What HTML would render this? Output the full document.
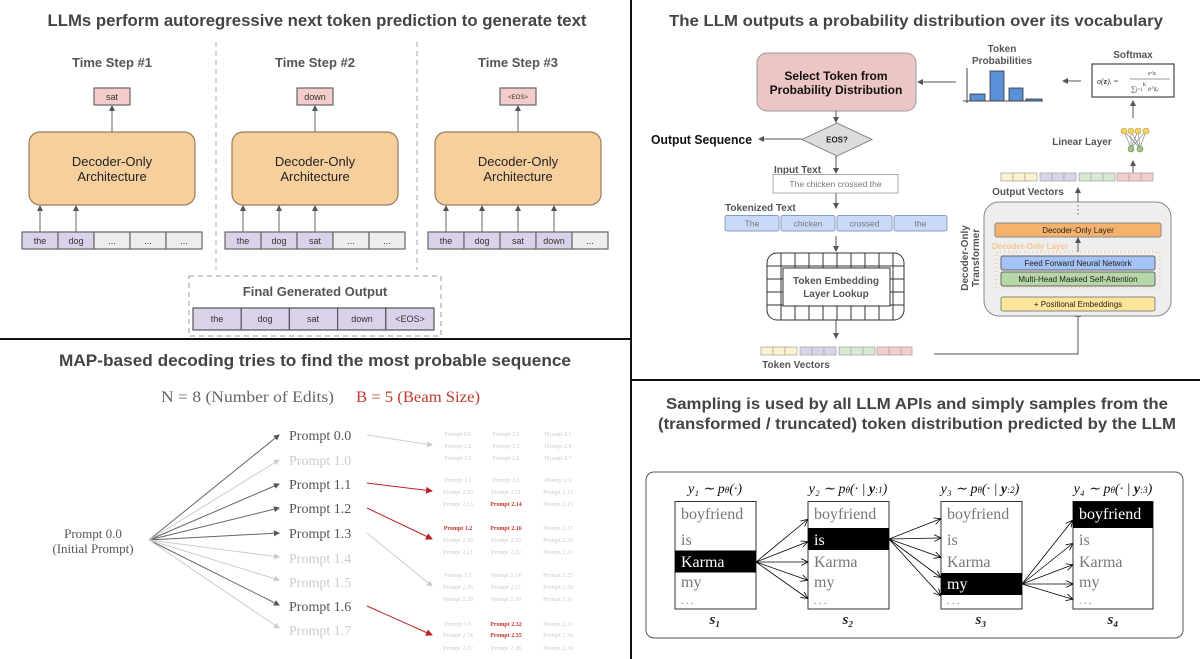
<!DOCTYPE html>
<html><head><meta charset="utf-8"><style>
html,body{margin:0;padding:0;background:#fff;}
svg{display:block;}
.t{font-family:"Liberation Sans",sans-serif;}
.s{font-family:"Liberation Serif",serif;}
</style></head><body>
<svg width="1200" height="659" viewBox="0 0 1200 659" xmlns="http://www.w3.org/2000/svg">
<defs>
<marker id="a" markerWidth="6" markerHeight="6" refX="5" refY="3" orient="auto" markerUnits="userSpaceOnUse"><path d="M0,0 L6,3 L0,6 z" fill="#555"/></marker>
<marker id="al" markerWidth="6" markerHeight="6" refX="5" refY="3" orient="auto" markerUnits="userSpaceOnUse"><path d="M0,0 L6,3 L0,6 z" fill="#ccc"/></marker>
<marker id="ar" markerWidth="7" markerHeight="7" refX="6" refY="3.5" orient="auto" markerUnits="userSpaceOnUse"><path d="M0,0 L7,3.5 L0,7 z" fill="#b22"/></marker>
<marker id="ab" markerWidth="7" markerHeight="7" refX="6" refY="3.5" orient="auto" markerUnits="userSpaceOnUse"><path d="M0,0 L7,3.5 L0,7" fill="none" stroke="#000" stroke-width="0.8"/></marker>
</defs>

<line x1="631" y1="0" x2="631" y2="659" stroke="#111" stroke-width="2"/>
<line x1="0" y1="339" x2="631" y2="339" stroke="#111" stroke-width="2"/>
<line x1="631" y1="380" x2="1200" y2="380" stroke="#111" stroke-width="2"/>

<text class="t" x="317" y="26" text-anchor="middle" font-size="17" font-weight="bold" fill="#444" textLength="539" lengthAdjust="spacingAndGlyphs">LLMs perform autoregressive next token prediction to generate text</text>
<g class="t" font-size="13" font-weight="bold" fill="#555" text-anchor="middle">
<text x="112" y="67">Time Step #1</text><text x="315" y="67">Time Step #2</text><text x="518" y="67">Time Step #3</text></g>
<line x1="216" y1="42" x2="216" y2="270" stroke="#aaa" stroke-dasharray="5,4"/>
<line x1="417" y1="42" x2="417" y2="270" stroke="#aaa" stroke-dasharray="5,4"/>
<g stroke="#666" stroke-width="1.2">
<rect x="94" y="88" width="36" height="17" fill="#f4cccc"/>
<rect x="297" y="88" width="36" height="17" fill="#f4cccc"/>
<rect x="500" y="88" width="36" height="17" fill="#f4cccc"/>
<rect x="29" y="132" width="166" height="73" rx="11" fill="#f6cf9c" stroke="#9a7b5a"/>
<rect x="232" y="132" width="166" height="73" rx="11" fill="#f6cf9c" stroke="#9a7b5a"/>
<rect x="435" y="132" width="166" height="73" rx="11" fill="#f6cf9c" stroke="#9a7b5a"/>
</g>
<g class="t" font-size="9" fill="#333" text-anchor="middle">
<text x="112" y="100">sat</text><text x="315" y="100">down</text><text x="518" y="99" font-size="6">&lt;EOS&gt;</text></g>
<g class="t" font-size="13" fill="#222" text-anchor="middle">
<text x="112" y="166">Decoder-Only</text><text x="112" y="181">Architecture</text>
<text x="315" y="166">Decoder-Only</text><text x="315" y="181">Architecture</text>
<text x="518" y="166">Decoder-Only</text><text x="518" y="181">Architecture</text></g>
<g stroke="#666" stroke-width="1" marker-end="url(#a)">
<line x1="112" y1="132" x2="112" y2="106"/><line x1="315" y1="132" x2="315" y2="106"/><line x1="518" y1="132" x2="518" y2="106"/>
<line x1="40" y1="232" x2="40" y2="206"/><line x1="76" y1="232" x2="76" y2="206"/>
<line x1="243" y1="232" x2="243" y2="206"/><line x1="279" y1="232" x2="279" y2="206"/><line x1="315" y1="232" x2="315" y2="206"/>
<line x1="446" y1="232" x2="446" y2="206"/><line x1="482" y1="232" x2="482" y2="206"/><line x1="518" y1="232" x2="518" y2="206"/><line x1="554" y1="232" x2="554" y2="206"/>
</g>
<g stroke="#666" stroke-width="1.2">
<rect x="22" y="232" width="36" height="17" fill="#d9d2e9"/><rect x="58" y="232" width="36" height="17" fill="#d9d2e9"/><rect x="94" y="232" width="36" height="17" fill="#eee"/><rect x="130" y="232" width="36" height="17" fill="#eee"/><rect x="166" y="232" width="36" height="17" fill="#eee"/>
<rect x="225" y="232" width="36" height="17" fill="#d9d2e9"/><rect x="261" y="232" width="36" height="17" fill="#d9d2e9"/><rect x="297" y="232" width="36" height="17" fill="#d9d2e9"/><rect x="333" y="232" width="36" height="17" fill="#eee"/><rect x="369" y="232" width="36" height="17" fill="#eee"/>
<rect x="428" y="232" width="36" height="17" fill="#d9d2e9"/><rect x="464" y="232" width="36" height="17" fill="#d9d2e9"/><rect x="500" y="232" width="36" height="17" fill="#d9d2e9"/><rect x="536" y="232" width="36" height="17" fill="#d9d2e9"/><rect x="572" y="232" width="36" height="17" fill="#eee"/>
</g>
<g class="t" font-size="9" fill="#333" text-anchor="middle">
<text x="40" y="244">the</text><text x="76" y="244">dog</text><text x="112" y="244">...</text><text x="148" y="244">...</text><text x="184" y="244">...</text>
<text x="243" y="244">the</text><text x="279" y="244">dog</text><text x="315" y="244">sat</text><text x="351" y="244">...</text><text x="387" y="244">...</text>
<text x="446" y="244">the</text><text x="482" y="244">dog</text><text x="518" y="244">sat</text><text x="554" y="244">down</text><text x="590" y="244">...</text></g>
<rect x="189" y="276" width="252" height="60" fill="none" stroke="#999" stroke-dasharray="5,4"/>
<text class="t" x="315" y="296" text-anchor="middle" font-size="13" font-weight="bold" fill="#555">Final Generated Output</text>
<g stroke="#555" stroke-width="1.2" fill="#d9d2e9">
<rect x="193" y="308" width="48.2" height="22"/><rect x="241.2" y="308" width="48.2" height="22"/><rect x="289.4" y="308" width="48.2" height="22"/><rect x="337.6" y="308" width="48.2" height="22"/><rect x="385.8" y="308" width="48.2" height="22"/></g>
<g class="t" font-size="9" fill="#333" text-anchor="middle">
<text x="217" y="322">the</text><text x="265" y="322">dog</text><text x="313" y="322">sat</text><text x="362" y="322">down</text><text x="410" y="322">&lt;EOS&gt;</text></g>

<text class="t" x="315" y="366" text-anchor="middle" font-size="17" font-weight="bold" fill="#444" textLength="512" lengthAdjust="spacingAndGlyphs">MAP-based decoding tries to find the most probable sequence</text>
<text class="s" x="161" y="402" font-size="16" fill="#666" textLength="173" lengthAdjust="spacingAndGlyphs">N = 8 (Number of Edits)</text>
<text class="s" x="356" y="402" font-size="16" fill="#c0392b" textLength="124" lengthAdjust="spacingAndGlyphs">B = 5 (Beam Size)</text>
<g class="s" font-size="13" fill="#555" text-anchor="middle"><text x="93" y="538">Prompt 0.0</text><text x="93" y="553">(Initial Prompt)</text></g>
<g stroke="#666" stroke-width="1" marker-end="url(#a)">
<line x1="149" y1="540" x2="279" y2="435"/><line x1="149" y1="540" x2="279" y2="484"/><line x1="149" y1="540" x2="279" y2="508"/><line x1="149" y1="540" x2="279" y2="533"/><line x1="149" y1="540" x2="279" y2="605"/></g>
<g stroke="#ccc" stroke-width="1" marker-end="url(#al)">
<line x1="149" y1="540" x2="279" y2="460"/><line x1="149" y1="540" x2="279" y2="557"/><line x1="149" y1="540" x2="279" y2="580"/><line x1="149" y1="540" x2="279" y2="628"/>
<line x1="367" y1="435" x2="432" y2="445"/><line x1="367" y1="533" x2="432" y2="586"/></g>
<g stroke="#b22" stroke-width="1" marker-end="url(#ar)">
<line x1="367" y1="483" x2="432" y2="491"/><line x1="367" y1="508" x2="432" y2="539"/><line x1="367" y1="606" x2="432" y2="635"/></g>
<g class="s" font-size="14">
<text x="289" y="440" fill="#555">Prompt 0.0</text><text x="289" y="465" fill="#ccc">Prompt 1.0</text><text x="289" y="489" fill="#555">Prompt 1.1</text><text x="289" y="513" fill="#555">Prompt 1.2</text><text x="289" y="538" fill="#555">Prompt 1.3</text><text x="289" y="563" fill="#ccc">Prompt 1.4</text><text x="289" y="587" fill="#ccc">Prompt 1.5</text><text x="289" y="611" fill="#555">Prompt 1.6</text><text x="289" y="635" fill="#ccc">Prompt 1.7</text></g>
<g class="s" font-size="6" fill="#ccc" text-anchor="middle">
<text x="458" y="436">Prompt 0.0</text><text x="506" y="436">Prompt 2.0</text><text x="558" y="436">Prompt 2.1</text>
<text x="458" y="448">Prompt 2.2</text><text x="506" y="448">Prompt 2.3</text><text x="558" y="448">Prompt 2.4</text>
<text x="458" y="460">Prompt 2.5</text><text x="506" y="460">Prompt 2.6</text><text x="558" y="460">Prompt 2.7</text>
<text x="458" y="482">Prompt 1.1</text><text x="506" y="482">Prompt 2.8</text><text x="558" y="482">Prompt 2.9</text>
<text x="458" y="494">Prompt 2.10</text><text x="506" y="494">Prompt 2.11</text><text x="558" y="494">Prompt 2.12</text>
<text x="458" y="506">Prompt 2.13</text><text x="506" y="506" fill="#c0392b" font-weight="bold">Prompt 2.14</text><text x="558" y="506">Prompt 2.15</text>
<text x="458" y="530" fill="#c0392b" font-weight="bold">Prompt 1.2</text><text x="506" y="530" fill="#c0392b" font-weight="bold">Prompt 2.16</text><text x="558" y="530">Prompt 2.17</text>
<text x="458" y="542">Prompt 2.18</text><text x="506" y="542">Prompt 2.19</text><text x="558" y="542">Prompt 2.20</text>
<text x="458" y="554">Prompt 2.21</text><text x="506" y="554">Prompt 2.22</text><text x="558" y="554">Prompt 2.23</text>
<text x="458" y="577">Prompt 1.3</text><text x="506" y="577">Prompt 2.24</text><text x="558" y="577">Prompt 2.25</text>
<text x="458" y="589">Prompt 2.26</text><text x="506" y="589">Prompt 2.27</text><text x="558" y="589">Prompt 2.28</text>
<text x="458" y="601">Prompt 2.29</text><text x="506" y="601">Prompt 2.30</text><text x="558" y="601">Prompt 2.31</text>
<text x="458" y="626">Prompt 1.6</text><text x="506" y="626" fill="#c0392b" font-weight="bold">Prompt 2.32</text><text x="558" y="626">Prompt 2.33</text>
<text x="458" y="637">Prompt 2.34</text><text x="506" y="637" fill="#c0392b" font-weight="bold">Prompt 2.35</text><text x="558" y="637">Prompt 2.36</text>
<text x="458" y="650">Prompt 2.37</text><text x="506" y="650">Prompt 2.38</text><text x="558" y="650">Prompt 2.39</text></g>

<text class="t" x="916" y="26" text-anchor="middle" font-size="16" font-weight="bold" fill="#444" textLength="494" lengthAdjust="spacingAndGlyphs">The LLM outputs a probability distribution over its vocabulary</text>
<rect x="757" y="53" width="159" height="58" rx="10" fill="#ecc5c5" stroke="#999"/>
<g class="t" font-size="12" font-weight="bold" fill="#111" text-anchor="middle"><text x="836" y="80">Select Token from</text><text x="836" y="94">Probability Distribution</text></g>
<g stroke="#555" stroke-width="1" marker-end="url(#a)">
<line x1="956" y1="82" x2="918" y2="82"/><line x1="1081" y1="81" x2="1063" y2="81"/>
<line x1="1133" y1="118" x2="1133" y2="101"/><line x1="1133" y1="173" x2="1133" y2="161"/>
<line x1="836" y1="111" x2="836" y2="122"/><line x1="802" y1="139" x2="759" y2="139"/>
<line x1="836" y1="156" x2="836" y2="173"/><line x1="836" y1="193" x2="836" y2="208"/>
<line x1="836" y1="236" x2="836" y2="251"/><line x1="836" y1="320" x2="836" y2="338"/>
<line x1="1078" y1="202" x2="1078" y2="188"/>
<polyline points="934,354 1078,354 1078,312" fill="none"/>
</g>
<g class="t" font-size="10" font-weight="bold" fill="#555" text-anchor="middle"><text x="1002" y="52">Token</text><text x="1002" y="64">Probabilities</text><text x="1133" y="58">Softmax</text></g>
<g stroke="#333" stroke-width="0.8" fill="#5b8fd6">
<rect x="970" y="94" width="15" height="7"/><rect x="990" y="71" width="14" height="30"/><rect x="1009" y="88" width="14" height="13"/><rect x="1026" y="99" width="16" height="2"/></g>
<path d="M967,68 V103 M963,101 H1043" stroke="#444" fill="none"/>
<rect x="1092" y="64" width="82" height="33" fill="#fff" stroke="#444" stroke-width="1.2"/>
<g class="s" font-size="8" fill="#333"><text x="1097" y="84" font-style="italic">σ(<tspan font-weight="bold" font-style="normal">z</tspan>)ᵢ =</text>
<text x="1148" y="75" font-size="6" font-style="italic">e^zᵢ</text><line x1="1130" y1="79" x2="1170" y2="79" stroke="#333" stroke-width="0.6"/><text x="1131" y="91" font-size="7">∑<tspan font-size="5">j=1</tspan><tspan font-size="5" dy="-5">K</tspan><tspan dy="5" font-style="italic"> e^zⱼ</tspan></text></g>
<text class="t" x="1082" y="145" text-anchor="middle" font-size="10" font-weight="bold" fill="#555">Linear Layer</text>
<g stroke="#777" stroke-width="0.6">
<path d="M1124,131 L1131,148 M1124,131 L1140,148 M1131,131 L1131,148 M1131,131 L1140,148 M1138,131 L1131,148 M1138,131 L1140,148 M1146,131 L1131,148 M1146,131 L1140,148"/>
<g fill="#f5d36a" stroke="#b9a040"><circle cx="1124" cy="131" r="3"/><circle cx="1131" cy="131" r="3"/><circle cx="1138" cy="131" r="3"/><circle cx="1146" cy="131" r="3"/></g>
<g fill="#9fc58c" stroke="#6a8f5a"><circle cx="1131" cy="149" r="3"/><circle cx="1140" cy="149" r="3"/></g></g>
<g stroke="#aaa" stroke-width="0.8">
<rect x="1001" y="173" width="12" height="8" fill="#fff2cc"/><rect x="1013" y="173" width="12" height="8" fill="#fff2cc"/><rect x="1025" y="173" width="12" height="8" fill="#fff2cc"/>
<rect x="1040" y="173" width="12" height="8" fill="#d9d2e9"/><rect x="1052" y="173" width="12" height="8" fill="#d9d2e9"/><rect x="1064" y="173" width="12" height="8" fill="#d9d2e9"/>
<rect x="1079" y="173" width="12" height="8" fill="#d9ead3"/><rect x="1091" y="173" width="12" height="8" fill="#d9ead3"/><rect x="1103" y="173" width="12" height="8" fill="#d9ead3"/>
<rect x="1117" y="173" width="12" height="8" fill="#f4cccc"/><rect x="1129" y="173" width="12" height="8" fill="#f4cccc"/><rect x="1141" y="173" width="12" height="8" fill="#f4cccc"/></g>
<text class="t" x="1028" y="195" text-anchor="middle" font-size="10" font-weight="bold" fill="#555">Output Vectors</text>
<rect x="984" y="202" width="187" height="114" rx="15" fill="#eee" stroke="#888"/>
<line x1="1078" y1="205" x2="1078" y2="217" stroke="#666" stroke-dasharray="1.5,2.5"/>
<rect x="995" y="223" width="166" height="14" rx="2" fill="#f6b26b" stroke="#888"/>
<text class="t" x="1078" y="233" text-anchor="middle" font-size="8" fill="#222">Decoder-Only Layer</text>
<line x1="1078" y1="252" x2="1078" y2="238" stroke="#555" marker-end="url(#a)"/>
<text class="t" x="1030" y="249" text-anchor="middle" font-size="8" font-weight="bold" fill="#f6c590">Decoder-Only Layer</text>
<rect x="996" y="252" width="164" height="36" fill="none" stroke="#f6b26b" stroke-dasharray="1,3"/>
<rect x="1001" y="256" width="154" height="14" rx="2" fill="#a4c2f4" stroke="#666"/>
<rect x="1001" y="272" width="154" height="14" rx="2" fill="#b6d7a8" stroke="#666"/>
<rect x="1001" y="297" width="154" height="14" rx="2" fill="#ffe599" stroke="#888"/>
<g class="t" font-size="8" fill="#222" text-anchor="middle"><text x="1078" y="266">Feed Forward Neural Network</text><text x="1078" y="282">Multi-Head Masked Self-Attention</text><text x="1078" y="307">+ Positional Embeddings</text></g>
<g class="t" font-size="10" font-weight="bold" fill="#555" text-anchor="middle">
<text transform="translate(968,258) rotate(-90)">Decoder-Only</text><text transform="translate(979,258) rotate(-90)">Transformer</text></g>
<polygon points="837,123 872,139.5 837,156 802,139.5" fill="#ddd" stroke="#888"/>
<text class="t" x="837" y="142.5" text-anchor="middle" font-size="8" font-weight="bold" fill="#222">EOS?</text>
<text class="t" x="651" y="144" font-size="13" font-weight="bold" fill="#111" textLength="101" lengthAdjust="spacingAndGlyphs">Output Sequence</text>
<text class="t" x="774" y="173" font-size="10" font-weight="bold" fill="#555">Input Text</text>
<rect x="773" y="174.5" width="125" height="18.5" fill="#fff" stroke="#aaa"/>
<text class="t" x="835.5" y="187" text-anchor="middle" font-size="8.5" fill="#777">The chicken crossed the</text>
<text class="t" x="725" y="211" font-size="10" font-weight="bold" fill="#555">Tokenized Text</text>
<g stroke="#8a9cc0" fill="#c9daf8"><rect x="725" y="215.5" width="54" height="15.5" rx="2"/><rect x="781" y="215.5" width="54" height="15.5" rx="2"/><rect x="837" y="215.5" width="55" height="15.5" rx="2"/><rect x="894" y="215.5" width="53" height="15.5" rx="2"/></g>
<g class="t" font-size="8.5" fill="#777" text-anchor="middle"><text x="752" y="226.5">The</text><text x="808" y="226.5">chicken</text><text x="864.5" y="226.5">crossed</text><text x="920.5" y="226.5">the</text></g>
<rect x="767" y="253" width="137" height="67" rx="10" fill="#fff" stroke="#333"/>
<g stroke="#333" stroke-width="1">
<path d="M781,253V320 M795,253V320 M809,253V320 M823,253V320 M837,253V320 M851,253V320 M865,253V320 M879,253V320 M893,253V320"/>
<path d="M767,266H904 M767,279H904 M767,292H904 M767,305H904"/></g>
<rect x="783" y="268" width="107" height="38" fill="#fff" stroke="#333"/>
<g class="t" font-size="10" font-weight="bold" fill="#555" text-anchor="middle"><text x="836" y="284">Token Embedding</text><text x="836" y="297">Layer Lookup</text></g>
<g stroke="#aaa" stroke-width="0.8">
<rect x="761" y="347" width="12" height="8" fill="#fff2cc"/><rect x="773" y="347" width="12" height="8" fill="#fff2cc"/><rect x="785" y="347" width="12" height="8" fill="#fff2cc"/>
<rect x="800" y="347" width="12" height="8" fill="#d9d2e9"/><rect x="812" y="347" width="12" height="8" fill="#d9d2e9"/><rect x="824" y="347" width="12" height="8" fill="#d9d2e9"/>
<rect x="839" y="347" width="12" height="8" fill="#d9ead3"/><rect x="851" y="347" width="12" height="8" fill="#d9ead3"/><rect x="863" y="347" width="12" height="8" fill="#d9ead3"/>
<rect x="877" y="347" width="12" height="8" fill="#f4cccc"/><rect x="889" y="347" width="12" height="8" fill="#f4cccc"/><rect x="901" y="347" width="11" height="8" fill="#f4cccc"/></g>
<text class="t" x="796" y="368" text-anchor="middle" font-size="10" font-weight="bold" fill="#555">Token Vectors</text>

<g class="t" font-size="16" font-weight="bold" fill="#444" text-anchor="middle">
<text x="917" y="409" textLength="502" lengthAdjust="spacingAndGlyphs">Sampling is used by all LLM APIs and simply samples from the</text>
<text x="917" y="429" textLength="518" lengthAdjust="spacingAndGlyphs">(transformed / truncated) token distribution predicted by the LLM</text></g>
<rect x="646" y="472" width="537" height="166" rx="8" fill="#fff" stroke="#555"/>
<g class="s" font-size="14" font-style="italic" fill="#111" text-anchor="middle">
<text x="715" y="493">y₁ ∼ p<tspan font-size="9">θ</tspan>(·)</text>
<text x="848" y="493">y₂ ∼ p<tspan font-size="9">θ</tspan>(· | <tspan font-weight="bold">y</tspan><tspan font-size="9">:1</tspan>)</text>
<text x="980" y="493">y₃ ∼ p<tspan font-size="9">θ</tspan>(· | <tspan font-weight="bold">y</tspan><tspan font-size="9">:2</tspan>)</text>
<text x="1113" y="493">y₄ ∼ p<tspan font-size="9">θ</tspan>(· | <tspan font-weight="bold">y</tspan><tspan font-size="9">:3</tspan>)</text></g>
<g fill="#fff" stroke="#333"><rect x="675" y="501.5" width="81" height="107.5"/><rect x="808" y="501.5" width="81" height="107.5"/><rect x="941" y="501.5" width="81" height="107.5"/><rect x="1073" y="501.5" width="80" height="107.5"/></g>
<g fill="#000"><rect x="675" y="550.5" width="81" height="22"/><rect x="808" y="528" width="81" height="22"/><rect x="941" y="573" width="81" height="22"/><rect x="1073" y="501.5" width="80" height="26.5"/></g>
<g class="s" font-size="16" fill="#777">
<text x="681" y="519">boyfriend</text><text x="681" y="545">is</text><text x="681" y="567" fill="#fff">Karma</text><text x="681" y="587">my</text><text x="681" y="604" font-size="10">. . .</text>
<text x="814" y="519">boyfriend</text><text x="814" y="545" fill="#fff">is</text><text x="814" y="567">Karma</text><text x="814" y="587">my</text><text x="814" y="604" font-size="10">. . .</text>
<text x="947" y="519">boyfriend</text><text x="947" y="545">is</text><text x="947" y="567">Karma</text><text x="947" y="589" fill="#fff">my</text><text x="947" y="604" font-size="10">. . .</text>
<text x="1079" y="519" fill="#fff">boyfriend</text><text x="1079" y="545">is</text><text x="1079" y="567">Karma</text><text x="1079" y="587">my</text><text x="1079" y="604" font-size="10">. . .</text></g>
<g class="s" font-size="15" font-style="italic" font-weight="bold" fill="#222" text-anchor="middle">
<text x="715" y="624">s₁</text><text x="848" y="624">s₂</text><text x="981" y="624">s₃</text><text x="1113" y="624">s₄</text></g>
<g stroke="#000" stroke-width="0.8" marker-end="url(#ab)">
<line x1="756" y1="562" x2="807" y2="520"/><line x1="756" y1="562" x2="807" y2="542"/><line x1="756" y1="562" x2="807" y2="562"/><line x1="756" y1="562" x2="807" y2="580"/><line x1="756" y1="562" x2="807" y2="598"/>
<line x1="889" y1="539" x2="940" y2="519"/><line x1="889" y1="539" x2="940" y2="538"/><line x1="889" y1="539" x2="940" y2="557"/><line x1="889" y1="539" x2="940" y2="577"/><line x1="889" y1="539" x2="940" y2="595"/>
<line x1="1022" y1="584" x2="1072" y2="521"/><line x1="1022" y1="584" x2="1072" y2="544"/><line x1="1022" y1="584" x2="1072" y2="565"/><line x1="1022" y1="584" x2="1072" y2="584"/><line x1="1022" y1="584" x2="1072" y2="599"/></g>
</svg>
</body></html>
